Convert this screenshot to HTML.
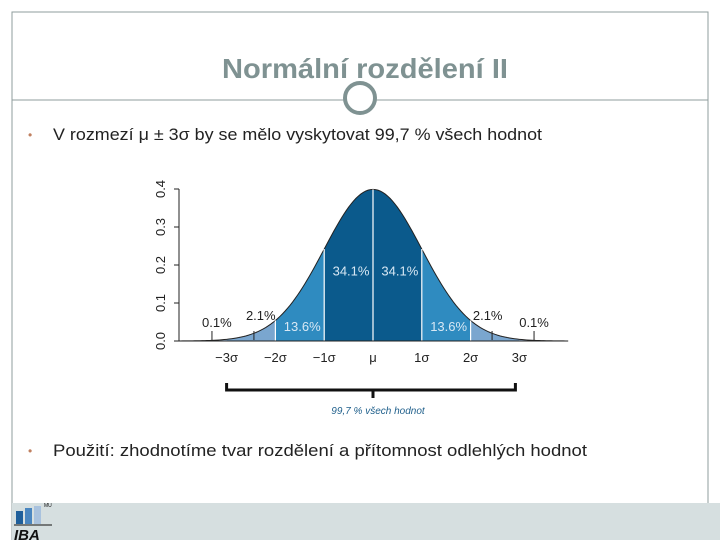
<!DOCTYPE html>
<html><head><meta charset="utf-8"><style>
body{margin:0;background:#fff}
svg{display:block;font-family:"Liberation Sans",sans-serif}
</style></head><body>
<svg width="720" height="540" viewBox="0 0 720 540">
<rect x="12" y="12" width="696" height="540" fill="none" stroke="#8f9c9c" stroke-width="1"/>
<text x="365" y="78" text-anchor="middle" font-size="28" font-weight="bold" fill="#7f9292" textLength="286" lengthAdjust="spacingAndGlyphs">Normální rozdělení II</text>
<line x1="12" y1="100" x2="708" y2="100" stroke="#8f9c9c"/>
<circle cx="360" cy="98" r="15" fill="#fff" stroke="#7f9292" stroke-width="4"/>
<text x="28" y="139" font-size="12" fill="#c08060">•</text>
<text x="53" y="140" font-size="17" fill="#222" textLength="489" lengthAdjust="spacingAndGlyphs">V rozmezí μ ± 3σ by se mělo vyskytovat 99,7 % všech hodnot</text>
<g id="chart"></g>
<text x="28" y="455" font-size="12" fill="#c08060">•</text>
<text x="53" y="456" font-size="17" fill="#222" textLength="534" lengthAdjust="spacingAndGlyphs">Použití: zhodnotíme tvar rozdělení a přítomnost odlehlých hodnot</text>
<rect x="12" y="503" width="708" height="37" fill="#d6dfe0"/>
<g>
<rect x="16" y="511" width="7" height="13" fill="#1f5f9b"/>
<rect x="25" y="508" width="7" height="16" fill="#4a86c0"/>
<rect x="34" y="506" width="7" height="18" fill="#a9c2de"/>
<line x1="14" y1="525" x2="52" y2="525" stroke="#111"/>
<text x="14" y="540" font-size="15" font-weight="bold" font-style="italic" fill="#111">IBA</text>
<text x="44" y="507" font-size="5" fill="#111">MU</text>
</g>
</svg>
<script>
const sigmaTicks=[-3,-2,-1,0,1,2,3];
const sigmaLabels=["−3σ","−2σ","−1σ","μ","1σ","2σ","3σ"];
const yTicks=[0,0.1,0.2,0.3,0.4];
const regionBounds=[-4,-3,-2,-1,0,1,2,3,4];
const regionColors=["#a3bfdc","#7aa6cf","#2f8bc0","#0b5a8c","#0b5a8c","#2f8bc0","#7aa6cf","#a3bfdc"];
const pctLabels=["34.1%","34.1%","13.6%","13.6%","2.1%","2.1%","0.1%","0.1%"];
const pctX=[-0.45,0.55,-1.45,1.55,-2.3,2.35,-3.2,3.3];
const pctY=[0.186,0.186,0.04,0.04,0.068,0.068,0.05,0.05];
const pctDark=[false,false,false,false,true,true,true,true];
const leaderX=[-2.44,2.44,-3.3,3.3];
const NS="http://www.w3.org/2000/svg";
const g=document.getElementById('chart');
const X=v=>373+v*48.8, Y=v=>341-v*380;
const pdf=z=>Math.exp(-z*z/2)/Math.sqrt(2*Math.PI);
function mk(t,a,p){const e=document.createElementNS(NS,t);for(const k in a)e.setAttribute(k,a[k]);(p||g).appendChild(e);return e;}
for(let i=0;i<regionBounds.length-1;i++){
 const a=regionBounds[i],b=regionBounds[i+1];let d=`M${X(a)},${Y(0)}`;
 for(let s=0;s<=40;s++){const z=a+(b-a)*s/40;d+=` L${X(z)},${Y(pdf(z))}`;}
 d+=` L${X(b)},${Y(0)}Z`;
 const p=mk('path',{d,fill:regionColors[i]});
 
 
}
let cd='';for(let s=0;s<=160;s++){const z=-4+8*s/160;cd+=(s?' L':'M')+X(z)+','+Y(pdf(z));}
const cl=mk('path',{d:cd,fill:'none',stroke:'#222','stroke-width':1});


[-2,-1,0,1,2].forEach(z=>{const l=mk('line',{x1:X(z),x2:X(z),y1:Y(0),y2:Y(pdf(z)),stroke:'#fff','stroke-width':1.2});
 
 });
const ax=mk('line',{x1:179,x2:566,y1:Y(0),y2:Y(0),stroke:'#222'});


const ay=mk('line',{x1:179,x2:179,y1:Y(0),y2:Y(0.4),stroke:'#222'});


yTicks.forEach(v=>{mk('line',{x1:174,x2:179,y1:Y(v),y2:Y(v),stroke:'#222'});
 const t=mk('text',{x:0,y:0,'font-size':13,fill:'#222','text-anchor':'middle',transform:`translate(165,${Y(v)}) rotate(-90)`});
 t.textContent=v.toFixed(1);
 
 });
sigmaTicks.forEach((v,i)=>{const t=mk('text',{x:X(v),y:362,'font-size':13,fill:'#222','text-anchor':'middle'});
 t.textContent=sigmaLabels[i];
 
 });
pctLabels.forEach((s,i)=>{const t=mk('text',{x:X(pctX[i]),y:Y(pctY[i])+5,'font-size':13,fill:pctDark[i]?'#222':'#d8e8f4','text-anchor':'middle'});
 t.textContent=s;
 
 });
leaderX.forEach(z=>{const l=mk('line',{x1:X(z),x2:X(z),y1:Y(0)-10,y2:Y(0)-1,stroke:'#222'});
 
 });
const br=mk('path',{d:`M${X(-3)},383 L${X(-3)},390 L${X(3)-4},390 L${X(3)-4},383 M373,390 L373,398`,fill:'none',stroke:'#111','stroke-width':3});


const bt=mk('text',{x:378,y:414,'font-size':10,'font-style':'italic',fill:'#1f5f8b','text-anchor':'middle'});
bt.textContent='99,7 %  všech hodnot';


</script>
</body></html>
